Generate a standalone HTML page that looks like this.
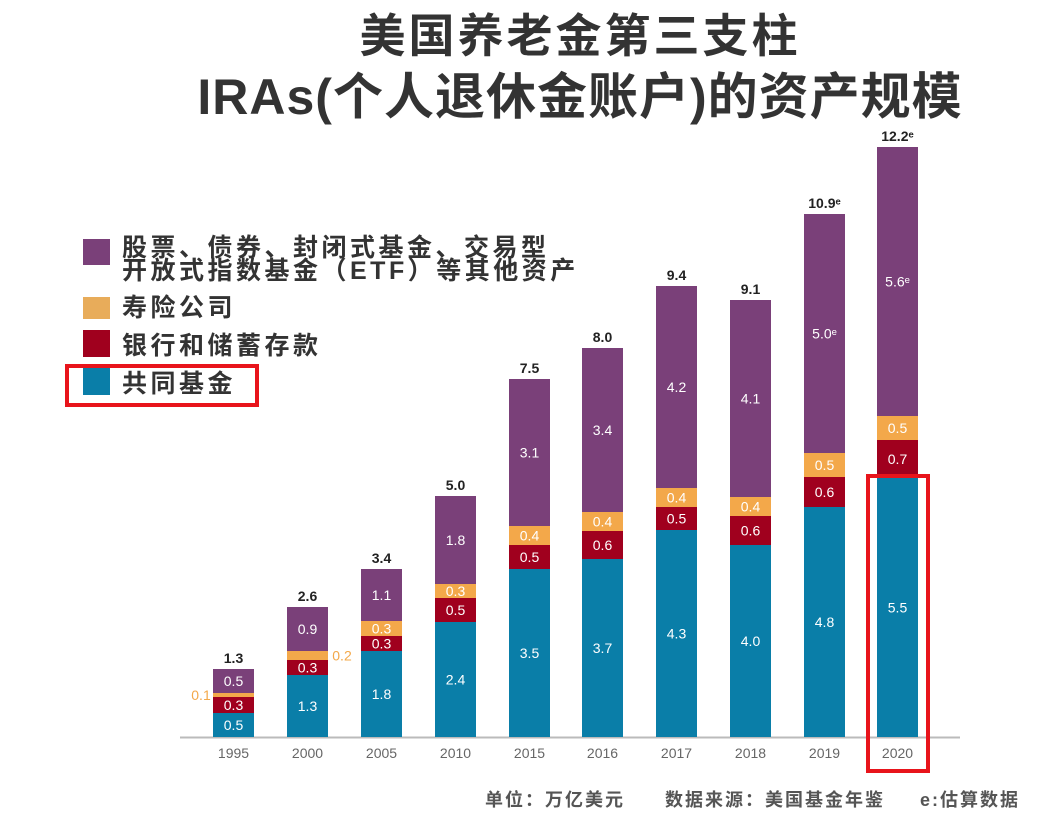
<!DOCTYPE html>
<html><head><meta charset="utf-8"><style>
body{margin:0;background:#fff;width:1050px;height:825px;overflow:hidden}
svg text{font-family:"Liberation Sans","Noto Sans CJK SC",sans-serif}
</style></head><body>
<svg width="1050" height="825" xmlns="http://www.w3.org/2000/svg">
<text x="580" y="52" text-anchor="middle" font-size="46" font-weight="bold" fill="#333" letter-spacing="3">美国养老金第三支柱</text>
<text x="580" y="114" text-anchor="middle" font-size="50" font-weight="bold" fill="#333" letter-spacing="1">IRAs(个人退休金账户)的资产规模</text>
<g font-size="25" font-weight="bold" fill="#333" letter-spacing="3.5">
<rect x="83" y="239" width="27" height="26" fill="#7a4079"/>
<text x="122" y="256">股票、债券、封闭式基金、交易型</text>
<text x="122" y="279">开放式指数基金（ETF）等其他资产</text>
<rect x="83" y="297" width="27" height="22" fill="#e8ac5a"/>
<text x="122" y="316">寿险公司</text>
<rect x="83" y="330" width="27" height="27" fill="#a0001e"/>
<text x="122" y="354">银行和储蓄存款</text>
<rect x="83" y="368" width="27" height="27" fill="#0a7ea8"/>
<text x="122" y="392">共同基金</text>
</g>
<rect x="67" y="366" width="190" height="39" fill="none" stroke="#e8141b" stroke-width="4"/>
<line x1="180" y1="737.5" x2="960" y2="737.5" stroke="#bbb" stroke-width="2"/>
<g id="bars"></g>
<rect x="868" y="476" width="60" height="295" fill="none" stroke="#e8141b" stroke-width="4"/>
<g font-size="18" font-weight="bold" fill="#555" letter-spacing="2">
<text x="485" y="806">单位：万亿美元</text>
<text x="665" y="806">数据来源：美国基金年鉴</text>
<text x="920" y="806">e:估算数据</text>
</g>
</svg>
<script>
var d=[
["1995",213,669,693,697,713,"1.3","0.5","0.1","0.3","0.5"],
["2000",287,607,651,660,675,"2.6","0.9","0.2","0.3","1.3"],
["2005",361,569,621,636,651,"3.4","1.1","0.3","0.3","1.8"],
["2010",435,496,584,598,622,"5.0","1.8","0.3","0.5","2.4"],
["2015",509,379,526,545,569,"7.5","3.1","0.4","0.5","3.5"],
["2016",582,348,512,531,559,"8.0","3.4","0.4","0.6","3.7"],
["2017",656,286,488,507,530,"9.4","4.2","0.4","0.5","4.3"],
["2018",730,300,497,516,545,"9.1","4.1","0.4","0.6","4.0"],
["2019",804,214,453,477,507,"10.9ᵉ","5.0ᵉ","0.5","0.6","4.8"],
["2020",877,147,416,440,478,"12.2ᵉ","5.6ᵉ","0.5","0.7","5.5"]];
var s="",w=41;
function t(x,y,txt,c,sz,b){return '<text x="'+x+'" y="'+y+'" text-anchor="middle" font-size="'+sz+'" fill="'+c+'"'+(b?' font-weight="bold"':'')+'>'+txt+'</text>';}
d.forEach(function(r){
var x=r[1],cx=x+w/2,b=737;
s+='<rect x="'+x+'" y="'+r[2]+'" width="'+w+'" height="'+(r[3]-r[2])+'" fill="#7a4079"/>';
s+='<rect x="'+x+'" y="'+r[3]+'" width="'+w+'" height="'+(r[4]-r[3])+'" fill="#f3a84a"/>';
s+='<rect x="'+x+'" y="'+r[4]+'" width="'+w+'" height="'+(r[5]-r[4])+'" fill="#a0001e"/>';
s+='<rect x="'+x+'" y="'+r[5]+'" width="'+w+'" height="'+(b-r[5])+'" fill="#0a7ea8"/>';
s+=t(cx,r[2]-6,r[6],"#222",14,1);
s+=t(cx,(r[2]+r[3])/2+5,r[7],"#fff",14);
if(r[0]=="1995")s+=t(x-12,(r[3]+r[4])/2+5,r[8],"#f3a84a",14);
else if(r[0]=="2000")s+=t(x+w+14,(r[3]+r[4])/2+5,r[8],"#f3a84a",14);
else s+=t(cx,(r[3]+r[4])/2+5,r[8],"#fff",14);
s+=t(cx,(r[4]+r[5])/2+5,r[9],"#fff",14);
s+=t(cx,(r[5]+b)/2+5,r[10],"#fff",14);
s+=t(cx,758,r[0],"#666",14);
});
document.getElementById("bars").innerHTML=s;
</script>
</body></html>
